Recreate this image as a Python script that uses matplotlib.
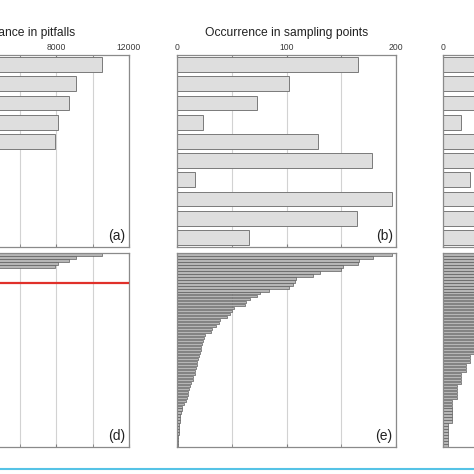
import matplotlib
matplotlib.use("Agg")
import matplotlib.pyplot as plt
from matplotlib.lines import Line2D
from matplotlib.ticker import MultipleLocator, FixedFormatter, FixedLocator

plt.rcParams["font.family"] = ["Liberation Sans", "DejaVu Sans"]

# top 10 species (ranked by abundance)
top_abundance = [10530, 9080, 8720, 8120, 7950, 4500, 3900, 3100, 2600, 2200]
top_occurrence = [165, 102, 73, 24, 129, 178, 16, 196, 164, 66]
top_third = [14, 18, 16, 4, 20, 22, 6, 26, 19, 12]

# all species, each ranked on its own measure
all_abundance = [10530, 9080, 8720, 8120, 7950, 4500, 3900, 3100, 2600, 2200,
                 1900, 1700, 1500, 1350, 1200, 1100, 1000, 900, 820, 750,
                 690, 620, 560, 500, 450, 400, 360, 320, 290, 260,
                 230, 200, 180, 160, 140, 120, 105, 90, 80, 70,
                 60, 52, 45, 40, 35, 30, 26, 22, 19, 16,
                 14, 12, 10, 8, 7, 6, 5, 4, 3, 3,
                 2, 2, 1, 1, 1]
all_occurrence = [196, 179, 166, 165, 152, 150, 131, 124, 109, 108,
                  106, 102, 84, 76, 73, 67, 63, 62, 52, 50,
                  48, 46, 39, 38, 36, 32, 31, 26, 25, 24,
                  23, 22, 22, 21, 20, 19, 18, 18, 17, 16,
                  16, 15, 15, 13, 12, 11, 10, 10, 9, 8,
                  6, 5, 5, 4, 3, 3, 3, 2, 2, 2,
                  2, 1, 1, 1, 1]
all_third = [40, 38, 36, 34, 32, 30, 28, 27, 26, 25,
             24, 22, 21, 20, 19, 18, 17, 16, 15, 14,
             14, 13, 12, 12, 11, 11, 10, 10, 9, 9,
             8, 8, 7, 7, 6, 6, 6, 5, 5, 5,
             4, 4, 4, 4, 3, 3, 3, 3, 3, 2,
             2, 2, 2, 2, 2, 2, 2, 1, 1, 1,
             1, 1, 1, 1, 1]

# only the texts that fall inside the cropped view
titles = ["Abundance in pitfalls", "Occurrence in sampling points", ""]
labels_top = ["(a)", "(b)", ""]
labels_bottom = ["(d)", "(e)", ""]
xmax = [12000, 200, 48]
tick_vals = [[8000, 12000], [0, 100, 200], [0]]
tick_text = [["8000", "12000"], ["0", "100", "200"], ["0"]]
minor = [2000, 50, 12]

W = 474.0
fig = plt.figure(figsize=(4.74, 4.74), dpi=100)


def px_axes(x0, x1, y0, y1):
    return fig.add_axes([x0 / W, 1 - y1 / W, (x1 - x0) / W, (y1 - y0) / W])


def style(ax, i, top_labels):
    ax.set_xlim(0, xmax[i])
    ax.xaxis.set_major_locator(FixedLocator(tick_vals[i]))
    ax.xaxis.set_major_formatter(FixedFormatter(tick_text[i]))
    ax.xaxis.set_minor_locator(MultipleLocator(minor[i]))
    ax.grid(True, axis="x", which="both", color="#d2d2d2", linewidth=0.8, zorder=0)
    ax.set_axisbelow(True)
    ax.tick_params(axis="x", which="both", direction="in", top=True, bottom=True,
                   labeltop=top_labels, labelbottom=False, length=2.5,
                   color="#808080", labelsize=6.2, labelcolor="#3a3a3a", pad=2)
    ax.tick_params(axis="y", left=False, labelleft=False)
    for s in ax.spines.values():
        s.set_color("#8a8a8a")
        s.set_linewidth(0.9)


cols = [(-90, 129), (177, 396), (443, 662)]
top_data = [top_abundance, top_occurrence, top_third]
bottom_data = [all_abundance, all_occurrence, all_third]

for i, (x0, x1) in enumerate(cols):
    ax = px_axes(x0, x1, 55, 247)
    ax.barh(range(len(top_data[i])), top_data[i], height=0.78, color="#dedede",
            edgecolor="#7a7a7a", linewidth=0.7, zorder=2)
    ax.set_ylim(len(top_data[i]) - 0.5, -0.5)
    style(ax, i, True)
    if titles[i]:
        ax.set_title(titles[i], fontsize=8.7, color="#222222", pad=14)
    if labels_top[i]:
        ax.text(0.985, 0.02, labels_top[i], transform=ax.transAxes, ha="right",
                va="bottom", fontsize=10, color="#222222")

    ax2 = px_axes(x0, x1, 253, 447)
    ax2.barh(range(len(bottom_data[i])), bottom_data[i], height=0.8, color="#b6b6b6",
             edgecolor="#5e5e5e", linewidth=0.5, zorder=2)
    ax2.set_ylim(len(bottom_data[i]) - 0.5, -0.5)
    style(ax2, i, False)
    if labels_bottom[i]:
        ax2.text(0.985, 0.02, labels_bottom[i], transform=ax2.transAxes, ha="right",
                 va="bottom", fontsize=10, color="#222222")
    if i == 0:
        ax2.axhline(9.5, color="#e0302a", linewidth=1.6, zorder=3)

# page frame line
fig.add_artist(Line2D([0, 1], [1 - 469 / W, 1 - 469 / W], transform=fig.transFigure,
                      color="#55c3e6", linewidth=1.5))

fig.savefig("out.png", dpi=100)
